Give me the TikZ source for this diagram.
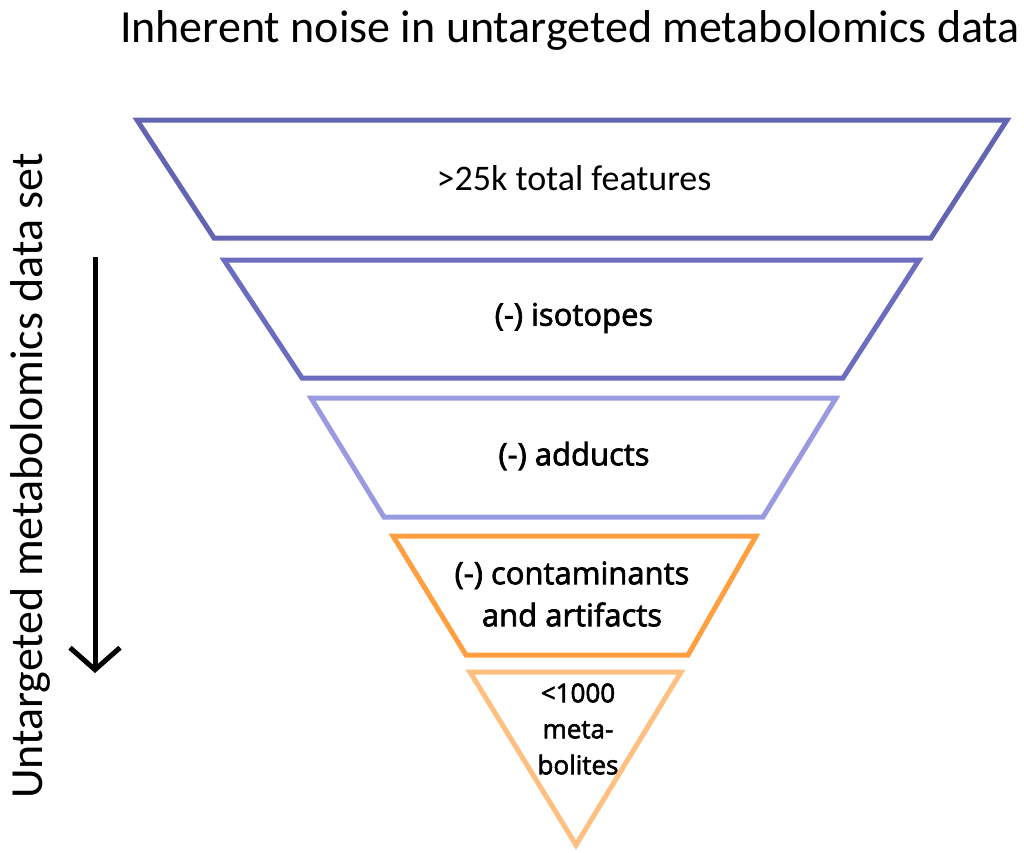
\documentclass[tikz,border=0pt]{standalone}
\usepackage{fontspec}
\setmainfont{Open Sans}
\newfontfamily\labfont[FakeBold=2.2]{Open Sans}
\newfontfamily\thinfont{Carlito}
\usetikzlibrary{arrows.meta}
\definecolor{cA}{HTML}{6464B4}
\definecolor{cB}{HTML}{6C6CC0}
\definecolor{cC}{HTML}{9A9AE0}
\definecolor{cD}{HTML}{FF9F40}
\definecolor{cE}{HTML}{FFBF80}
\tikzset{
  layer/.style={line width=5pt, line join=miter, fill=white},
  lbl/.style={font=\labfont\fontsize{31}{42}\selectfont, align=center, inner sep=0pt},
  thin/.style={font=\thinfont\fontsize{46}{52}\selectfont, inner sep=0pt},
}
\begin{document}
\begin{tikzpicture}[x=1pt,y=-1pt]
\useasboundingbox (0,0) rectangle (1024,852);
\draw[layer,draw=cA] (137,120) -- (1007,120) -- (931,238) -- (214,238) -- cycle;
\draw[layer,draw=cB] (224,260) -- (919,260) -- (843,378) -- (302,378) -- cycle;
\draw[layer,draw=cC] (311,398) -- (836,398) -- (763,517) -- (384,517) -- cycle;
\draw[layer,draw=cD] (393,536) -- (756,536) -- (688,655) -- (466,655) -- cycle;
\draw[layer,draw=cE] (470,672) -- (681,672) -- (576,845) -- cycle;
\node[thin] (title) at (570,30) {Inherent noise in untargeted metabolomics data};
\node[thin, font=\thinfont\fontsize{36}{40}\selectfont] (l1) at (574,178) {>25k total features};
\node[lbl] (l2) at (574,318) {(-) isotopes};
\node[lbl] (l3) at (574,456) {(-) adducts};
\node[lbl] (l4) at (572,594) {(-) contaminants\\and artifacts};
\node[lbl, font=\labfont\fontsize{26}{36}\selectfont] (l5) at (578,729) {<1000\\meta-\\bolites};
\node[thin, rotate=90] (side) at (30,476) {Untargeted metabolomics data set};
\coordinate (a1) at (95,257);
\coordinate (a2) at (95,673);
\draw[line width=5pt, -{Straight Barb[length=22pt,width=50pt,line width=5pt]}] (a1) -- (a2);
\end{tikzpicture}
\end{document}
